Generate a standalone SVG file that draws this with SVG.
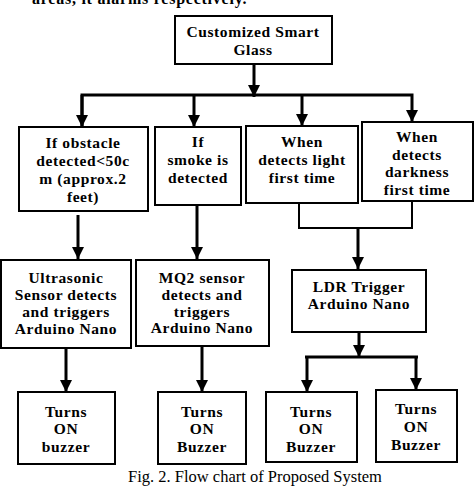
<svg xmlns="http://www.w3.org/2000/svg" width="474" height="489" viewBox="0 0 474 489">
<style>
.box{fill:#fff;stroke:#000;stroke-width:2}
.t{font-family:"Liberation Serif","Times New Roman",serif;font-weight:bold;font-size:15.5px;text-anchor:middle;fill:#000;letter-spacing:0.6px}
.c{fill:none;stroke:#000;stroke-width:3}
.j{fill:none;stroke:#000;stroke-width:2}
.cap{font-family:"Liberation Serif","Times New Roman",serif;font-size:16.5px;text-anchor:middle;fill:#000}
</style>
<defs>
<marker id="ah" markerUnits="userSpaceOnUse" markerWidth="12" markerHeight="12" viewBox="0 0 12 12" refX="12" refY="6" orient="auto">
<path d="M0,0 L12,6 L0,12 z" fill="#000"/>
</marker>
</defs>
<rect width="474" height="489" fill="#fff"/>
<text x="32" y="4" style="font-family:'Liberation Serif','Times New Roman',serif;font-weight:bold;font-size:16px;letter-spacing:1.5px" textLength="216">areas, it alarms respectively.</text>

<g id="connectors">
<line class="c" x1="254" y1="64" x2="254" y2="97" marker-end="url(#ah)"/>
<polyline class="c" points="82,127 82,95 412,95 412,122" marker-end="url(#ah)"/>
<line class="c" x1="194" y1="95" x2="194" y2="127" marker-end="url(#ah)"/>
<line class="c" x1="302" y1="95" x2="302" y2="126" marker-end="url(#ah)"/>
<line class="c" x1="82" y1="95" x2="82" y2="127" marker-end="url(#ah)"/>
<line class="c" x1="78" y1="215" x2="78" y2="259" marker-end="url(#ah)"/>
<line class="c" x1="197" y1="205" x2="197" y2="259" marker-end="url(#ah)"/>
<polyline class="j" points="299,203 299,228 412,228 412,201"/>
<line class="c" x1="358" y1="228" x2="358" y2="269" marker-end="url(#ah)"/>
<line class="c" x1="66" y1="348" x2="66" y2="392" marker-end="url(#ah)"/>
<line class="c" x1="202" y1="346" x2="202" y2="392" marker-end="url(#ah)"/>
<line class="c" x1="359" y1="332" x2="359" y2="357" marker-end="url(#ah)"/>
<line class="c" x1="305" y1="357" x2="418" y2="357"/>
<line class="c" x1="307" y1="356" x2="307" y2="392" marker-end="url(#ah)"/>
<line class="c" x1="416" y1="356" x2="416" y2="390" marker-end="url(#ah)"/>
</g>

<g id="start">
<rect class="box" x="175" y="16" width="157" height="48"/>
<text class="t" x="253" y="37">Customized Smart</text>
<text class="t" x="253" y="55">Glass</text>
</g>

<g id="obstacle">
<rect class="box" x="19" y="127" width="129" height="84"/>
<text class="t" x="83" y="148">If obstacle</text>
<text class="t" x="83" y="166">detected&lt;50c</text>
<text class="t" x="83" y="184">m (approx.2</text>
<text class="t" x="83" y="202">feet)</text>
</g>

<g id="smoke">
<rect class="box" x="155" y="127" width="86" height="78"/>
<text class="t" x="198" y="147">If</text>
<text class="t" x="198" y="165">smoke is</text>
<text class="t" x="198" y="183">detected</text>
</g>

<g id="light">
<rect class="box" x="246" y="126" width="112" height="77"/>
<text class="t" x="302" y="147">When</text>
<text class="t" x="302" y="165">detects light</text>
<text class="t" x="302" y="183">first time</text>
</g>

<g id="dark">
<rect class="box" x="362" y="122" width="111" height="79"/>
<text class="t" x="417" y="142">When</text>
<text class="t" x="417" y="160">detects</text>
<text class="t" x="417" y="177">darkness</text>
<text class="t" x="417" y="195">first time</text>
</g>

<g id="ultrasonic">
<rect class="box" x="1" y="260" width="130" height="88"/>
<text class="t" x="66" y="283">Ultrasonic</text>
<text class="t" x="66" y="300">Sensor detects</text>
<text class="t" x="66" y="317">and triggers</text>
<text class="t" x="66" y="334">Arduino Nano</text>
</g>

<g id="mq2">
<rect class="box" x="136" y="260" width="133" height="86"/>
<text class="t" x="202" y="283">MQ2 sensor</text>
<text class="t" x="202" y="300">detects and</text>
<text class="t" x="202" y="317">triggers</text>
<text class="t" x="202" y="333">Arduino Nano</text>
</g>

<g id="ldr">
<rect class="box" x="292" y="270" width="134" height="62"/>
<text class="t" x="359" y="292">LDR Trigger</text>
<text class="t" x="359" y="309">Arduino Nano</text>
</g>

<g id="buzzer1">
<rect class="box" x="18" y="392" width="97" height="72"/>
<text class="t" x="66" y="417">Turns</text>
<text class="t" x="66" y="434">ON</text>
<text class="t" x="66" y="452">buzzer</text>
</g>

<g id="buzzer2">
<rect class="box" x="158" y="392" width="88" height="72"/>
<text class="t" x="202" y="417">Turns</text>
<text class="t" x="202" y="434">ON</text>
<text class="t" x="202" y="452">Buzzer</text>
</g>

<g id="buzzer3">
<rect class="box" x="266" y="392" width="91" height="70"/>
<text class="t" x="311" y="417">Turns</text>
<text class="t" x="311" y="434">ON</text>
<text class="t" x="311" y="452">Buzzer</text>
</g>

<g id="buzzer4">
<rect class="box" x="376" y="390" width="81" height="72"/>
<text class="t" x="416" y="414">Turns</text>
<text class="t" x="416" y="432">ON</text>
<text class="t" x="416" y="450">Buzzer</text>
</g>

<text class="cap" x="255" y="482">Fig. 2. Flow chart of Proposed System</text>
</svg>
